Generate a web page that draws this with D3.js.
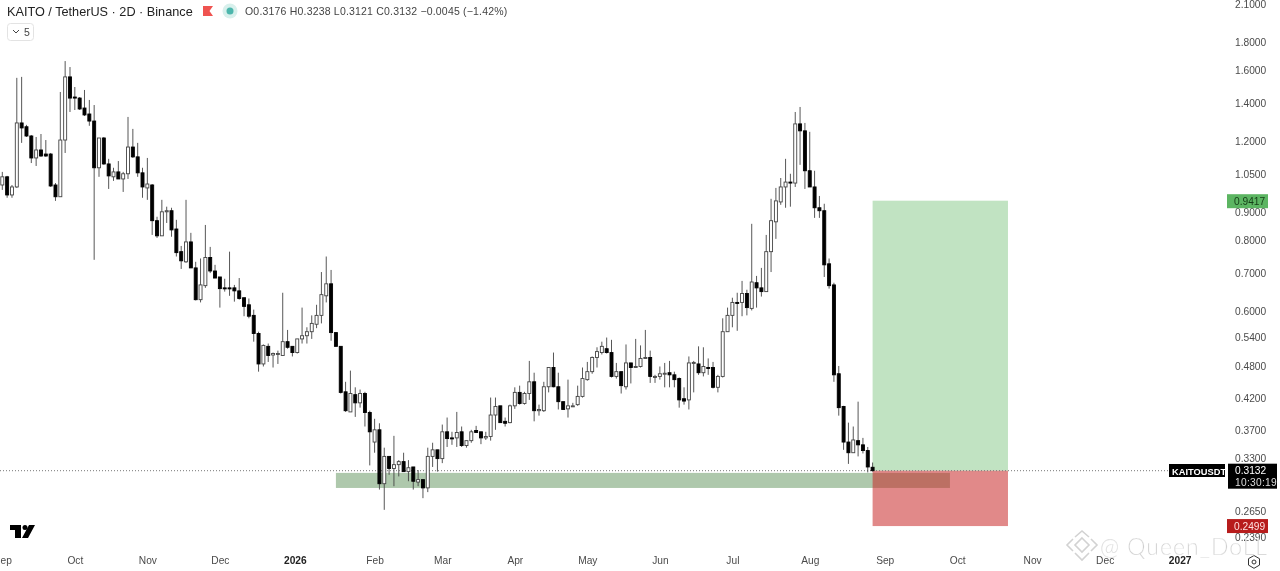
<!DOCTYPE html>
<html>
<head>
<meta charset="utf-8">
<title>KAITO / TetherUS</title>
<script src="https://cdnjs.cloudflare.com/ajax/libs/d3/7.9.0/d3.min.js"></script>
<style>
    html, body { margin: 0; padding: 0; background: #fff; overflow: hidden; }
    svg { display: block; font-family: "Liberation Sans", Arial, sans-serif; filter: blur(0.35px); }
    .domain { display: none; }
</style>
</head>
<body>
<div id="chart"></div>
<script>
// Two day candles, oldest first
const opens = [1.004,1.038,.964,.996,1.293,1.273,1.226,1.121,1.158,1.139,1.139,1.004,.957,1.206,1.560,1.437,1.431,1.374,1.341,1.303,
    1.077,1.216,1.094,1.038,1.059,1.029,1.051,1.172,1.126,1.055,.992,1.004,.868,.816,.900,.904,.839,.765,.734,.796,
    .716,.629,.666,.747,.707,.690,.660,.660,.660,.652,.634,.616,.590,.548,.484,.520,.502,.503,.501,.530,
    .520,.507,.536,.543,.552,.569,.590,.639,.671,.550,.520,.432,.398,.427,.413,.429,.397,.352,.370,.297,
    .332,.316,.321,.325,.312,.318,.299,.302,.292,.332,.341,.329,.367,.358,.358,.367,.347,.354,.369,.367,
    .358,.360,.393,.408,.383,.381,.408,.431,.412,.429,.450,.400,.400,.441,.477,.441,.415,.403,.407,.410,
    .424,.454,.469,.497,.507,.515,.507,.460,.469,.441,.486,.477,.479,.495,.497,.458,.460,.465,.467,.463,
    .456,.420,.418,.486,.484,.467,.477,.477,.440,.460,.552,.590,.622,.622,.645,.607,.674,.660,.650,.765,
    .864,.937,.996,1.016,1.012,1.288,1.252,1.064,.996,.915,.904,.728,.668,.465,.407,.352,.337,.354,.348,.340,
    .3176];
const highs = [1.059,1.042,1.004,1.554,1.560,1.283,1.231,1.221,1.236,1.206,1.144,1.012,1.467,1.664,1.624,1.497,1.437,1.479,1.420,1.391,
    1.216,1.221,1.117,1.077,1.107,1.059,1.325,1.262,1.192,1.077,1.121,1.008,.882,.945,.919,.915,.871,.783,.945,.826,
    .734,.744,.853,.780,.725,.690,.685,.765,.668,.687,.634,.632,.604,.552,.524,.526,.507,.511,.647,.556,
    .520,.536,.609,.562,.590,.616,.704,.750,.710,.550,.520,.450,.471,.440,.436,.432,.400,.387,.380,.344,
    .332,.361,.327,.337,.327,.318,.314,.302,.344,.351,.341,.378,.389,.367,.398,.375,.354,.370,.376,.367,
    .367,.422,.422,.408,.389,.410,.440,.443,.432,.490,.467,.410,.450,.477,.507,.467,.415,.454,.413,.443,
    .477,.488,.499,.518,.530,.539,.534,.486,.469,.524,.486,.536,.522,.556,.511,.463,.479,.486,.490,.469,
    .458,.440,.499,.490,.520,.518,.495,.488,.463,.583,.609,.634,.647,.679,.655,.857,.693,.716,.819,.949,
    .992,1.033,1.117,1.051,1.352,1.380,1.293,1.247,1.064,.960,.930,.744,.674,.480,.408,.381,.375,.415,.358,.345,
    .3238];
const lows = [.984,.953,.953,.992,1.192,1.221,1.098,1.085,1.126,1.126,.996,.941,.957,1.144,1.352,1.363,1.363,1.330,1.278,.740,
    1.038,1.090,.988,1.021,1.029,.976,1.029,1.121,1.038,.953,.945,.819,.809,.816,.860,.813,.750,.713,.731,.716,
    .627,.622,.660,.701,.687,.609,.650,.639,.624,.629,.588,.583,.530,.469,.479,.488,.477,.484,.501,.515,
    .499,.505,.526,.526,.536,.560,.571,.622,.532,.520,.429,.398,.398,.390,.405,.375,.320,.337,.290,.267,
    .308,.294,.306,.312,.300,.290,.294,.280,.287,.318,.312,.323,.345,.348,.345,.345,.344,.351,.366,.349,
    .355,.354,.370,.381,.375,.380,.403,.410,.410,.418,.383,.392,.398,.431,.440,.402,.402,.389,.407,.408,
    .422,.452,.465,.477,.503,.505,.458,.456,.429,.436,.447,.477,.477,.495,.448,.448,.454,.440,.440,.440,
    .405,.410,.402,.431,.463,.460,.463,.438,.431,.458,.552,.562,.554,.588,.590,.602,.609,.637,.650,.704,
    .806,.926,.915,.919,.996,1.090,.988,.996,.878,.878,.690,.658,.450,.392,.341,.322,.337,.332,.336,.311,
    .3121];
const closes = [1.038,.964,.996,1.293,1.267,1.226,1.121,1.158,1.130,1.130,1.000,.957,1.206,1.560,1.431,1.431,1.369,1.336,1.303,1.077,
    1.216,1.094,1.042,1.059,1.029,1.051,1.172,1.126,1.055,.996,1.008,.868,.816,.900,.904,.836,.762,.737,.796,.716,
    .629,.668,.747,.707,.687,.658,.658,.658,.652,.632,.612,.588,.548,.484,.522,.501,.505,.505,.530,.518,
    .507,.536,.543,.552,.571,.590,.642,.671,.550,.520,.431,.400,.429,.413,.429,.397,.367,.370,.297,.332,
    .316,.321,.325,.312,.317,.300,.302,.292,.332,.341,.329,.367,.357,.357,.366,.347,.354,.367,.366,.358,
    .360,.393,.407,.381,.380,.408,.431,.412,.429,.450,.400,.402,.441,.477,.441,.415,.402,.408,.408,.424,
    .456,.469,.497,.509,.520,.507,.460,.469,.443,.486,.477,.479,.495,.497,.460,.460,.465,.466,.463,.454,
    .418,.416,.486,.487,.467,.479,.476,.440,.460,.552,.590,.622,.621,.645,.609,.676,.660,.650,.765,.868,
    .941,.996,1.016,1.012,1.288,1.252,1.064,.996,.915,.904,.725,.666,.463,.405,.352,.337,.355,.348,.340,.318,
    .3132];

// Price axis and time axis labels (month ticks snap to the nearest candle)
const priceTicks = [2.1, 1.8, 1.6, 1.4, 1.2, 1.05, 0.9, 0.8, 0.7, 0.6, 0.54, 0.48, 0.42, 0.37, 0.33, 0.265, 0.239];
const monthTicks = ["2025-09-01", "2025-10-01", "2025-10-31", "2025-11-30", "2025-12-31", "2026-02-02", "2026-03-02", "2026-04-01",
    "2026-05-01", "2026-05-31", "2026-06-30", "2026-08-01", "2026-09-01", "2026-10-01", "2026-11-01", "2026-12-01", "2027-01-01"];
const monthLabels = ["Sep", "Oct", "Nov", "Dec", "2026", "Feb", "Mar", "Apr", "May", "Jun", "Jul", "Aug", "Sep", "Oct", "Nov", "Dec", "2027"];

// Long position and demand zone
const targetPrice = 0.9417, entryPrice = 0.3132, stopPrice = 0.2499;
const positionDates = ["2026-08-27", "2026-10-22"];
const zoneDates = ["2026-01-17", "2026-09-28"];
const zonePrices = [0.3104, 0.2919];

const width = 1280, height = 571;
const parseDate = d3.utcParse("%Y-%m-%d");
const firstCandle = parseDate("2025-09-01"), lastCandle = parseDate("2026-08-27");
const candleDates = opens.map((d, i) => d3.utcDay.offset(firstCandle, i * 2));

const svg = d3.select("#chart")
    .append("svg")
    .attr("width", width)
    .attr("height", height);

const xScale = d3.scaleUtc().domain([firstCandle, lastCandle]).range([2.3, 872.6]);
const yScale = d3.scaleLog().domain([2.1, 0.239]).range([4, 537]);

// Zone first, candles sit on top of it
svg.append("rect")
    .attr("x", xScale(parseDate(zoneDates[0])))
    .attr("y", yScale(zonePrices[0]))
    .attr("width", xScale(parseDate(zoneDates[1])) - xScale(parseDate(zoneDates[0])))
    .attr("height", yScale(zonePrices[1]) - yScale(zonePrices[0]))
    .attr("fill", "rgb(76,133,72)")
    .attr("fill-opacity", 0.45);

const posLeft = xScale(parseDate(positionDates[0]));
const posWidth = xScale(parseDate(positionDates[1])) - posLeft;

svg.append("rect")
    .attr("x", posLeft)
    .attr("y", yScale(targetPrice))
    .attr("width", posWidth)
    .attr("height", yScale(entryPrice) - yScale(targetPrice))
    .attr("fill", "rgb(76,175,80)")
    .attr("fill-opacity", 0.35);

svg.append("rect")
    .attr("x", posLeft)
    .attr("y", yScale(entryPrice))
    .attr("width", posWidth)
    .attr("height", yScale(stopPrice) - yScale(entryPrice))
    .attr("fill", "rgb(200,40,40)")
    .attr("fill-opacity", 0.55);

// Last price line
svg.append("line")
    .attr("x1", 0)
    .attr("x2", 1169)
    .attr("y1", yScale(entryPrice))
    .attr("y2", yScale(entryPrice))
    .attr("stroke", "#777")
    .attr("stroke-width", 1)
    .attr("stroke-dasharray", "1,2");

// Candles
const candles = svg.append("g")
    .selectAll("g")
    .data(candleDates)
    .enter()
    .append("g");

candles.append("line")
    .attr("x1", d => xScale(d))
    .attr("x2", d => xScale(d))
    .attr("y1", (d, i) => yScale(highs[i]))
    .attr("y2", (d, i) => yScale(lows[i]))
    .attr("stroke", "#444")
    .attr("stroke-width", 0.9);

candles.append("rect")
    .attr("x", d => xScale(d) - 1.5)
    .attr("width", 3)
    .attr("y", (d, i) => yScale(Math.max(opens[i], closes[i])))
    .attr("height", (d, i) => Math.max(1, Math.abs(yScale(opens[i]) - yScale(closes[i]))))
    .attr("fill", (d, i) => closes[i] >= opens[i] ? "#fff" : "#000")
    .attr("stroke", (d, i) => closes[i] >= opens[i] ? "#444" : "#000")
    .attr("stroke-width", 0.9);

// Price axis
const yAxis = d3.axisRight(yScale)
    .tickValues(priceTicks)
    .tickFormat(d3.format(".4f"))
    .tickSize(0)
    .tickPadding(6);

svg.append("g")
    .attr("transform", "translate(1229,0)")
    .call(yAxis)
    .call(g => g.selectAll("text").attr("fill", "#4a4a4a").style("font-size", "10.2px"));

// Time axis
const xAxis = d3.axisBottom(xScale)
    .tickValues(monthTicks.map(parseDate))
    .tickFormat((d, i) => monthLabels[i])
    .tickSize(0)
    .tickPadding(0);

svg.append("g")
    .attr("transform", "translate(0,557)")
    .call(xAxis)
    .call(g => g.selectAll("text")
        .attr("fill", (d, i) => monthLabels[i].length === 4 ? "#222" : "#4a4a4a")
        .style("font-weight", (d, i) => monthLabels[i].length === 4 ? "bold" : "normal")
        .style("font-size", "10.2px"));

// Price tags on the axis
function priceTag(x, y, w, h, fill, label, textColor) {
    svg.append("rect").attr("x", x).attr("y", y).attr("width", w).attr("height", h).attr("fill", fill);
    svg.append("text")
        .attr("x", x + 7)
        .attr("y", y + 10.5)
        .attr("fill", textColor)
        .style("font-size", "10.2px")
        .text(label);
}
priceTag(1227, yScale(targetPrice) - 6.5, 41, 14, "#5cb562", d3.format(".4f")(targetPrice), "#143d16");
priceTag(1227, yScale(stopPrice) - 7, 41, 14, "#b71c1c", d3.format(".4f")(stopPrice), "#ffe0e0");
priceTag(1228, yScale(entryPrice) - 7, 49, 25, "#000", d3.format(".4f")(entryPrice), "#fff");
svg.append("text").attr("x", 1235).attr("y", 486).attr("fill", "#ddd").style("font-size", "10.2px").style("letter-spacing", "0.3px").text("10:30:19");
svg.append("rect").attr("x", 1169).attr("y", 464).attr("width", 56).attr("height", 13).attr("fill", "#000");
svg.append("text").attr("x", 1172).attr("y", 474.5).attr("fill", "#fff").style("font-size", "9.3px").style("font-weight", "bold").text("KAITOUSDT");

// Header
svg.append("text").attr("x", 7).attr("y", 16).attr("fill", "#222").style("font-size", "12.7px")
    .text("KAITO / TetherUS · 2D · Binance");
svg.append("path").attr("d", "M203,6H213L209.5,11L213,16H203Z").attr("fill", "#ef5350");
svg.append("circle").attr("cx", 230).attr("cy", 11).attr("r", 7.5).attr("fill", "#d8f0ec");
svg.append("circle").attr("cx", 230).attr("cy", 11).attr("r", 3.5).attr("fill", "#4db6ac");
svg.append("text").attr("x", 245).attr("y", 15).attr("fill", "#444").style("font-size", "10.5px").style("letter-spacing", "0.19px")
    .text(`O${d3.format(".4f")(opens[opens.length - 1])} H${d3.format(".4f")(highs[highs.length - 1])} L${d3.format(".4f")(lows[lows.length - 1])} C${d3.format(".4f")(closes[closes.length - 1])} −0.0045 (−1.42%)`);

// Collapsed indicators button
svg.append("rect").attr("x", 7.5).attr("y", 23.5).attr("width", 26).attr("height", 17).attr("rx", 3)
    .attr("fill", "#fff").attr("stroke", "#e3e3e3");
svg.append("path").attr("d", "M13,30L16,33L19,30").attr("fill", "none").attr("stroke", "#444").attr("stroke-width", 1);
svg.append("text").attr("x", 24).attr("y", 36).attr("fill", "#444").style("font-size", "10.5px").text("5");

// TradingView mark
svg.append("path").attr("d", "M10,525H21V538H15V530H10Z M29,525H35L28,538H22Z").attr("fill", "#000");
svg.append("circle").attr("cx", 25).attr("cy", 527.5).attr("r", 2.5).attr("fill", "#000");

// Settings icon
svg.append("path").attr("d", "M1254,555.5L1259.5,558.7V565.1L1254,568.3L1248.500,565.1V558.7Z")
    .attr("fill", "none").attr("stroke", "#333");
svg.append("circle").attr("cx", 1254).attr("cy", 562).attr("r", 2).attr("fill", "none").attr("stroke", "#333");

// Watermark
const mark = svg.append("g").attr("fill", "none").attr("stroke", "#d2d2d2").attr("stroke-width", 1.6);
mark.append("path").attr("d", "M1082,538L1089,545L1082,552L1075,545Z");
mark.append("path").attr("d", "M1075,537L1082,531L1089,537 M1073,539L1067,545L1073,551 M1091,539L1097,545L1091,551 M1075,553L1082,560L1089,553");
svg.append("text")
    .attr("x", 1100)
    .attr("y", 555)
    .attr("fill", "#cacaca")
    .attr("stroke", "#fff")
    .attr("stroke-width", 0.3)
    .style("font-family", "Lato, sans-serif")
    .style("font-weight", "300")
    .style("font-size", "23px")
    .style("letter-spacing", "1px")
    .text("@ Queen_DoLL");
</script>
</body>
</html>
